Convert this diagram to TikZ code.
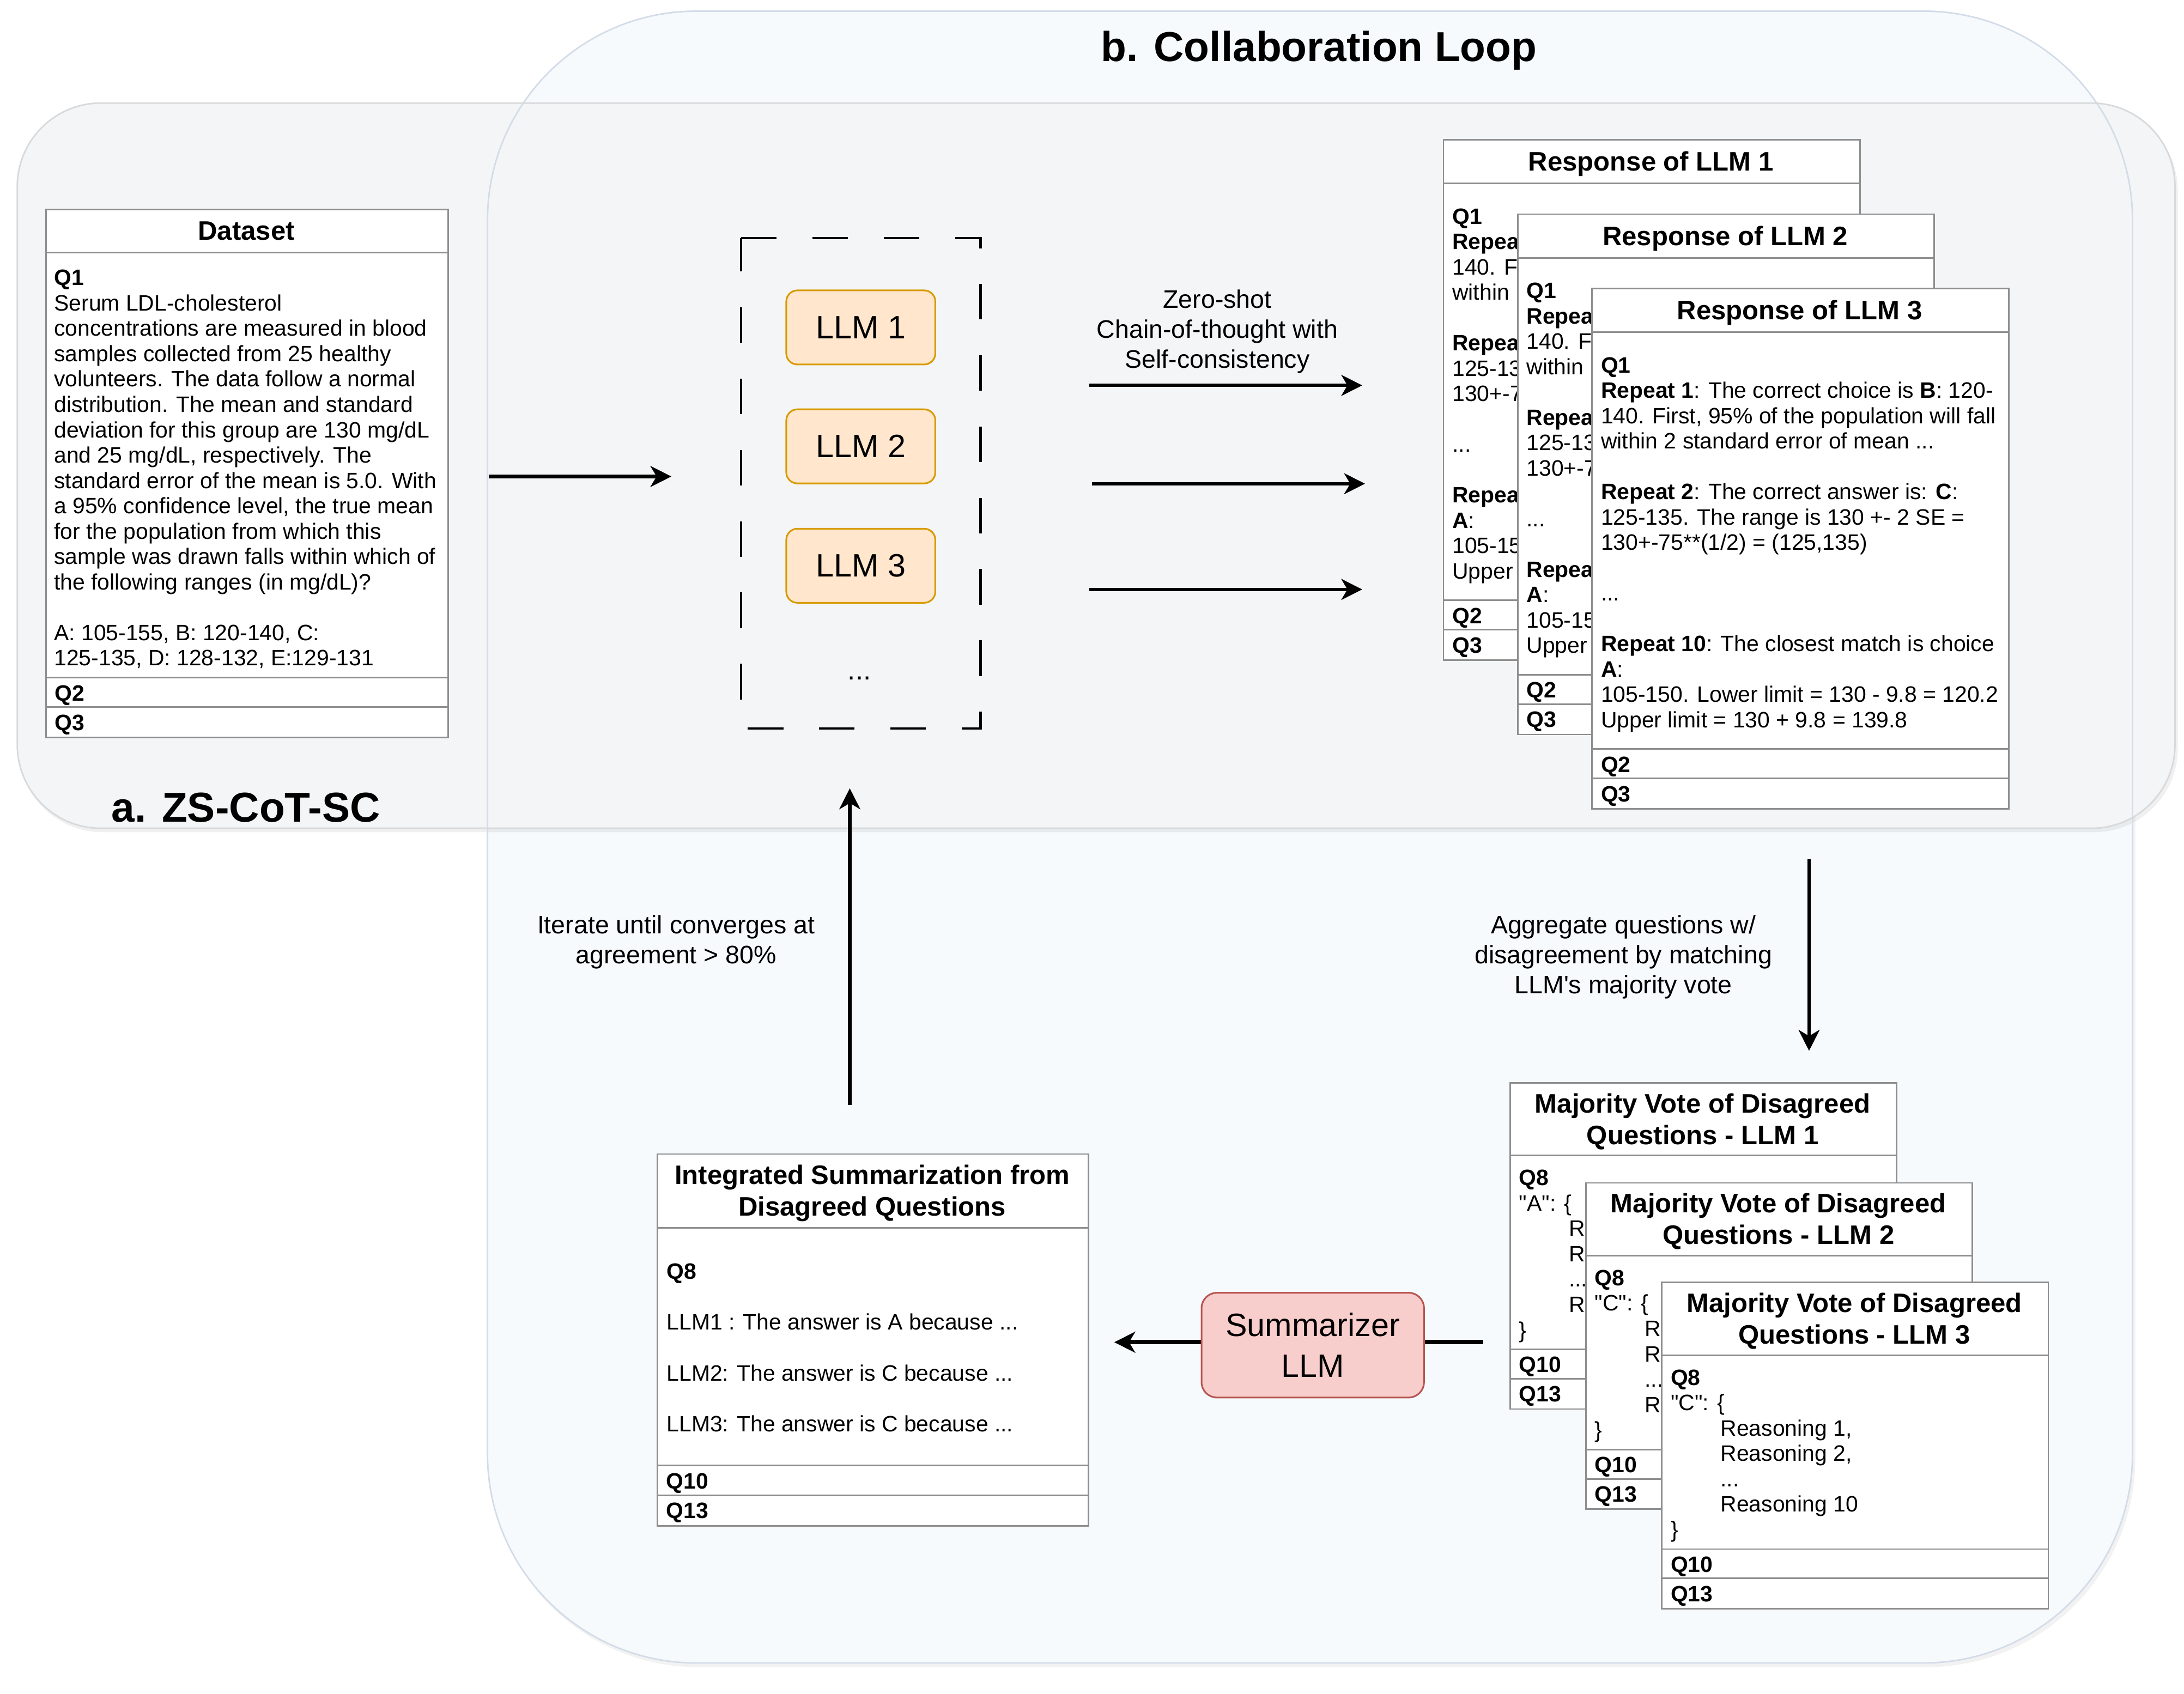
\documentclass[tikz,border=0pt]{standalone}
\usepackage{fontspec}
\setmainfont{Liberation Sans}[Ligatures=TeXOff]
\usetikzlibrary{arrows.meta}

\definecolor{panelb}{HTML}{F6FAFD}
\definecolor{panelbline}{HTML}{D3DCE8}
\definecolor{panela}{HTML}{F4F5F6}
\definecolor{panelaline}{HTML}{D8D9DB}
\definecolor{boxline}{HTML}{8E8E8E}
\definecolor{llmfill}{HTML}{FFE6CC}
\definecolor{llmline}{HTML}{D79B00}
\definecolor{sumfill}{HTML}{F8CECC}
\definecolor{sumline}{HTML}{B85450}

\tikzset{
  tbl/.style={draw=boxline, line width=0.55pt, fill=white, rectangle, inner sep=0pt, anchor=north west},
  tblrule/.style={draw=boxline, line width=0.55pt},
  bodytxt/.style={anchor=north west, inner sep=0pt, align=left, font=\fontsize{8}{9.1}\selectfont},
  rowtxt/.style={anchor=base west, inner sep=0pt, font=\fontsize{8}{9.1}\selectfont\bfseries},
  headtxt/.style={anchor=center, inner sep=0pt, align=center, text depth=0pt, font=\fontsize{9.6}{11.35}\selectfont\bfseries},
  lbl/.style={anchor=north, inner sep=0pt, align=center, font=\fontsize{9.1}{10.75}\selectfont},
  llm/.style={draw=llmline, fill=llmfill, line width=0.6pt, rounded corners=4pt, minimum width=53.5pt, minimum height=26.6pt, inner sep=0pt, font=\fontsize{11.6}{14.75}\selectfont},
  summ/.style={draw=sumline, fill=sumfill, line width=0.6pt, rounded corners=5.5pt, minimum width=79.85pt, minimum height=37.6pt, inner sep=0pt, align=center, font=\fontsize{11.6}{14.75}\selectfont},
  titletxt/.style={anchor=base, inner sep=0pt, font=\fontsize{15}{18}\selectfont\bfseries},
  arr/.style={line width=1.25pt, -{Stealth[length=7.5pt,width=7.5pt,inset=2.2pt]}},
  poolline/.style={line width=0.85pt, dash pattern=on 12.8pt off 12.8pt},
}

\newcommand\qtable[8]{%
  \node[tbl, minimum width=#4*0.5pt, minimum height=#5*0.5pt] (#1) at (#2,#3) {};
  \draw[tblrule] (#2,#3+#6) -- ++(#4,0);
  \draw[tblrule] (#2,#3+#5-2*#7) -- ++(#4,0);
  \draw[tblrule] (#2,#3+#5-#7) -- ++(#4,0);
  \node[headtxt] (#1-head) at (#2+#4/2,#3+#6/2) {#8};
}
\newcommand\qrows[7]{%
  \node[rowtxt] (#1-r1) at (#2+6.5,#3+#4-1.5*#5+6) {#6};
  \node[rowtxt] (#1-r2) at (#2+6.5,#3+#4-0.5*#5+6) {#7};
}
% full text of the front response card
\newcommand\resptext{\strut\textbf{Q1}\\
\textbf{Repeat 1}: The correct choice is \textbf{B}: 120-\\
140. First, 95\% of the population will fall\\
within 2 standard error of mean ...\\
\strut\\
\textbf{Repeat 2}: The correct answer is: \textbf{C}:\\
125-135. The range is 130 +- 2 SE =\\
130+-75**(1/2) = (125,135)\\
\strut\\
...\\
\strut\\
\textbf{Repeat 10}: The closest match is choice\\
\textbf{A}:\\
105-150. Lower limit = 130 - 9.8 = 120.2\\
Upper limit = 130 + 9.8 = 139.8}
% visible part of the response cards lying behind
\newcommand\resphidden{\strut\textbf{Q1}\\
\textbf{Repea}\\
140. Fi\\
within\\
\strut\\
\textbf{Repea}\\
125-13\\
130+-7\\
\strut\\
...\\
\strut\\
\textbf{Repea}\\
\textbf{A}:\\
105-15\\
Upper}
\newcommand\mvtext[1]{\strut\textbf{Q8}\\
"#1": \{\\
\hspace*{17.9pt}Reasoning 1,\\
\hspace*{17.9pt}Reasoning 2,\\
\hspace*{17.9pt}...\\
\hspace*{17.9pt}Reasoning 10\\
\}}
\newcommand\mvhidden[1]{\strut\textbf{Q8}\\
"#1": \{\\
\hspace*{17.9pt}Re\\
\hspace*{17.9pt}Re\\
\hspace*{17.9pt}...\\
\hspace*{17.9pt}R\\
\}}

\begin{document}
\begin{tikzpicture}[x=0.5pt,y=-0.5pt]
\useasboundingbox (0,0) rectangle (1568,1216);

% ---- background panels
\path[fill=black, opacity=0.05, rounded corners=75pt] (351.5,10.5) rectangle (1533,1197);
\path[fill=panelb, rounded corners=75pt] (350,8) rectangle (1531,1194);
\path[fill=black, opacity=0.06, rounded corners=30pt] (13.5,76.5) rectangle (1563.5,597.5);
\path[fill=panela, rounded corners=30pt] (12.4,74) rectangle (1561.5,594.7);
\draw[panelbline, line width=0.55pt, rounded corners=75pt] (350,8) rectangle (1531,1194);
\draw[panelaline, line width=0.55pt, rounded corners=30pt] (12.4,74) rectangle (1561.5,594.7);

\node[titletxt] (titleb) at (947,44) {b. Collaboration Loop};
\node[titletxt] (titlea) at (176.5,590) {a. ZS-CoT-SC};

% ---- dataset
\qtable{dataset}{32.5}{150}{288.8}{378.8}{31.4}{21.1}{Dataset}
\node[bodytxt] (dataset-body) at (38.5,191.8) {\strut\textbf{Q1}\\
Serum LDL-cholesterol\\
concentrations are measured in blood\\
samples collected from 25 healthy\\
volunteers. The data follow a normal\\
distribution. The mean and standard\\
deviation for this group are 130 mg/dL\\
and 25 mg/dL, respectively. The\\
standard error of the mean is 5.0. With\\
a 95\% confidence level, the true mean\\
for the population from which this\\
sample was drawn falls within which of\\
the following ranges (in mg/dL)?\\
\strut\\
A: 105-155, B: 120-140, C:\\
125-135, D: 128-132, E:129-131};
\qrows{dataset}{32.5}{150}{378.8}{21.1}{Q2}{Q3}

% ---- LLM pool
\draw[poolline] (532,171) -- (704,171) -- (704,523) -- (532,523) -- cycle;
\coordinate (pool) at (618,347);
\node[llm] (llm1) at (618,235.1) {LLM 1};
\node[llm] (llm2) at (618,320.5) {LLM 2};
\node[llm] (llm3) at (618,406.2) {LLM 3};
\node[anchor=base, inner sep=0pt, font=\fontsize{10}{12}\selectfont] (llmdots) at (617,488) {...};

% ---- responses
\qtable{resp1}{1035.8}{99.8}{299}{373.6}{31.9}{21.2}{Response of LLM 1}
\node[bodytxt] (resp1-body) at (1042.3,147.7) {\resphidden};
\qrows{resp1}{1035.8}{99.8}{373.6}{21.2}{Q2}{Q3}
\qtable{resp2}{1089.1}{153.2}{299}{373.6}{31.9}{21.2}{Response of LLM 2}
\node[bodytxt] (resp2-body) at (1095.6,201.1) {\resphidden};
\qrows{resp2}{1089.1}{153.2}{373.6}{21.2}{Q2}{Q3}
\qtable{resp3}{1142.5}{206.6}{299}{373.6}{31.9}{21.2}{Response of LLM 3}
\node[bodytxt] (resp3-body) at (1149,254.5) {\resptext};
\qrows{resp3}{1142.5}{206.6}{373.6}{21.2}{Q2}{Q3}

% ---- majority votes
\qtable{mv1}{1083.7}{777}{277.4}{234.1}{52.7}{21.1}{Majority Vote of Disagreed\\Questions - LLM 1}
\node[bodytxt] (mv1-body) at (1090.2,838.1) {\mvhidden{A}};
\qrows{mv1}{1083.7}{777}{234.1}{21.1}{Q10}{Q13}
\qtable{mv2}{1138.1}{848.8}{277.4}{234.1}{52.7}{21.1}{Majority Vote of Disagreed\\Questions - LLM 2}
\node[bodytxt] (mv2-body) at (1144.6,909.9) {\mvhidden{C}};
\qrows{mv2}{1138.1}{848.8}{234.1}{21.1}{Q10}{Q13}
\qtable{mv3}{1192.6}{920.3}{277.4}{234.1}{52.7}{21.1}{Majority Vote of Disagreed\\Questions - LLM 3}
\node[bodytxt] (mv3-body) at (1199.1,981.4) {\mvtext{C}};
\qrows{mv3}{1192.6}{920.3}{234.1}{21.1}{Q10}{Q13}

% ---- integrated summary
\qtable{integ}{471.5}{828}{309.5}{267}{53.5}{21.4}{Integrated Summarization from\\Disagreed Questions}
\node[bodytxt] (integ-body) at (478.3,905.4) {\strut\textbf{Q8}\\
\strut\\
LLM1 : The answer is A because ...\\
\strut\\
LLM2: The answer is C because ...\\
\strut\\
LLM3: The answer is C because ...};
\qrows{integ}{471.5}{828}{267}{21.4}{Q10}{Q13}

% ---- connectors
\coordinate (ds-out) at (351,342.1);
\coordinate (pool-in) at (482,342.1);
\draw[arr] (ds-out) -- (pool-in);

\coordinate (p1s) at (782,276.7);
\coordinate (p1e) at (978,276.7);
\coordinate (p2s) at (784,347.3);
\coordinate (p2e) at (980,347.3);
\coordinate (p3s) at (782,423.2);
\coordinate (p3e) at (978,423.2);
\draw[arr] (p1s) -- (p1e);
\draw[arr] (p2s) -- (p2e);
\draw[arr] (p3s) -- (p3e);
\node[lbl] (zslbl) at (874,205.8) {\strut Zero-shot\\Chain-of-thought with\\Self-consistency};

\coordinate (aggs) at (1298.8,616.8);
\coordinate (agge) at (1298.8,754.5);
\draw[arr] (aggs) -- (agge);
\node[lbl] (agglbl) at (1165.5,655) {\strut Aggregate questions w/\\disagreement by matching\\LLM's majority vote};

\coordinate (sums) at (1065,963.7);
\coordinate (sume) at (800,963.7);
\draw[arr, line width=1.6pt] (sums) -- (sume);
\node[summ] (summarizer) at (942.5,965.8) {Summarizer\\LLM};

\coordinate (its) at (610.1,793.4);
\coordinate (ite) at (610.1,566);
\draw[arr] (its) -- (ite);
\node[lbl] (itlbl) at (485.4,655) {\strut Iterate until converges at\\agreement > 80\%};

\end{tikzpicture}
\end{document}
